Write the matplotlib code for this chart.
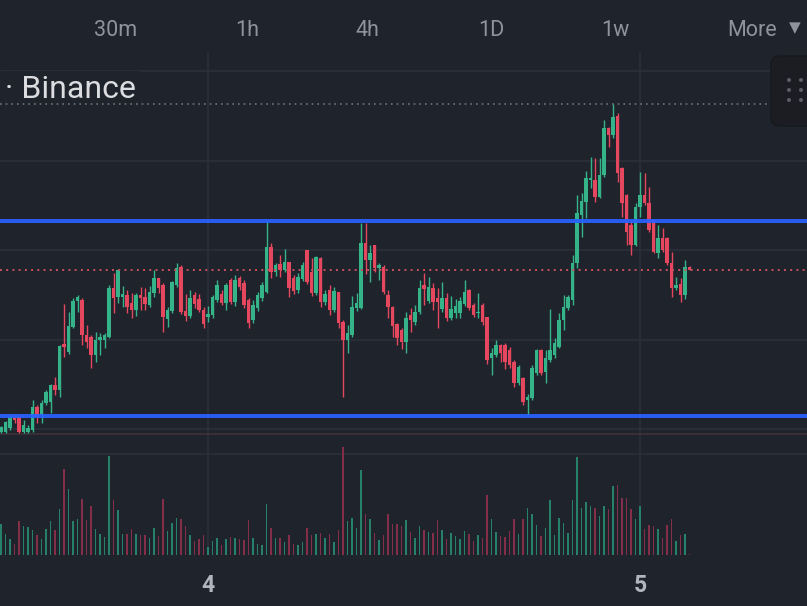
import numpy as np
import matplotlib
matplotlib.use("Agg")
import matplotlib.pyplot as plt
from matplotlib.patches import FancyBboxPatch, Circle
from matplotlib.transforms import IdentityTransform

# 15 minute candles, first visible bar is index 0
opens = [538, 538, 542, 552, 553, 538, 538, 540, 563, 555,
         567, 568, 585, 580, 626, 618, 643, 669, 670, 635,
         633, 615, 630, 630, 633, 682, 673, 673, 675, 667,
         660, 675, 673, 665, 677, 692, 685, 651, 659, 685,
         703, 659, 654, 675, 671, 660, 653, 655, 670, 676,
         667, 690, 668, 692, 687, 670, 650, 662, 672, 678,
         723, 698, 706, 700, 708, 692, 680, 691, 720, 698,
         677, 712, 668, 680, 660, 678, 648, 630, 635, 662,
         662, 727, 710, 725, 702, 703, 675, 663, 646, 640,
         628, 655, 648, 658, 685, 669, 682, 672, 661, 672,
         652, 657, 657, 666, 680, 665, 657, 665, 653, 612,
         615, 625, 625, 620, 608, 587, 592, 570, 572, 597,
         620, 598, 610, 615, 623, 650, 662, 670, 707, 755,
         768, 790, 790, 773, 795, 842, 835, 854, 802, 775,
         745, 725, 763, 775, 767, 750, 717, 732, 732, 707,
         682, 686, 675, 703]
highs = [544, 549, 555, 556, 554, 550, 545, 570, 565, 570,
         580, 586, 593, 625, 666, 658, 672, 675, 672, 645,
         635, 638, 637, 637, 685, 697, 701, 684, 680, 677,
         677, 683, 682, 684, 700, 692, 687, 663, 689, 707,
         705, 676, 680, 678, 676, 663, 664, 675, 690, 680,
         687, 692, 695, 694, 690, 672, 670, 678, 688, 750,
         727, 707, 715, 721, 708, 695, 697, 708, 720, 712,
         714, 713, 680, 685, 683, 678, 650, 645, 674, 677,
         747, 747, 725, 725, 707, 705, 680, 664, 647, 642,
         658, 662, 665, 690, 697, 693, 687, 682, 688, 677,
         674, 671, 673, 690, 681, 667, 677, 667, 653, 622,
         630, 626, 627, 623, 610, 605, 593, 576, 605, 621,
         621, 620, 661, 632, 657, 675, 675, 715, 775, 777,
         799, 813, 812, 812, 850, 843, 866, 857, 803, 776,
         750, 767, 798, 797, 783, 750, 745, 742, 733, 718,
         693, 692, 710, 704]
lows = [537, 537, 540, 547, 537, 537, 537, 538, 547, 547,
        565, 557, 575, 573, 613, 616, 642, 658, 625, 622,
        602, 608, 615, 622, 632, 657, 667, 663, 657, 652,
        654, 660, 660, 663, 673, 677, 638, 643, 657, 683,
        656, 649, 652, 662, 658, 642, 648, 652, 668, 665,
        660, 666, 664, 680, 662, 642, 647, 659, 669, 677,
        692, 694, 693, 698, 673, 676, 677, 689, 686, 674,
        675, 663, 665, 655, 658, 642, 573, 617, 633, 659,
        661, 696, 688, 698, 690, 676, 652, 633, 625, 621,
        617, 638, 645, 656, 665, 667, 660, 642, 658, 649,
        650, 652, 652, 664, 660, 653, 652, 645, 606, 595,
        613, 608, 601, 602, 583, 585, 565, 555, 570, 595,
        595, 587, 608, 612, 622, 640, 660, 665, 702, 733,
        752, 782, 768, 772, 793, 823, 832, 788, 753, 725,
        715, 724, 753, 765, 738, 717, 712, 718, 705, 673,
        680, 668, 671, 700]
closes = [543, 548, 553, 550, 538, 545, 542, 563, 553, 567,
          578, 585, 580, 624, 623, 644, 669, 673, 635, 628,
          615, 630, 633, 635, 682, 672, 700, 676, 663, 660,
          675, 672, 666, 678, 692, 682, 653, 660, 688, 702,
          658, 654, 672, 666, 660, 646, 656, 673, 685, 667,
          685, 668, 690, 683, 665, 647, 665, 675, 685, 723,
          698, 705, 700, 708, 682, 679, 693, 705, 688, 677,
          713, 668, 676, 660, 679, 647, 630, 637, 663, 667,
          727, 710, 717, 702, 705, 678, 663, 644, 632, 628,
          652, 650, 658, 682, 681, 683, 668, 668, 672, 652,
          661, 664, 669, 678, 662, 655, 658, 648, 610, 617,
          625, 617, 608, 605, 587, 603, 568, 573, 602, 620,
          597, 612, 620, 627, 650, 663, 673, 707, 757, 769,
          792, 792, 773, 795, 842, 835, 853, 797, 767, 738,
          725, 763, 775, 767, 740, 718, 732, 720, 707, 682,
          685, 675, 703, 700]
volumes = [94, 64, 49, 34, 101, 86, 84, 76, 59, 47,
           77, 101, 74, 137, 259, 199, 101, 107, 169, 104,
           146, 79, 64, 53, 296, 164, 134, 64, 64, 77,
           64, 61, 59, 51, 82, 56, 169, 71, 97, 112,
           109, 86, 61, 42, 47, 61, 24, 41, 52, 29,
           49, 53, 50, 47, 44, 104, 52, 34, 31, 154,
           82, 52, 50, 38, 59, 34, 31, 40, 82, 59,
           62, 65, 52, 64, 38, 74, 324, 101, 112, 82,
           254, 122, 109, 67, 44, 61, 124, 92, 94, 86,
           106, 70, 52, 86, 76, 68, 67, 106, 74, 47,
           67, 58, 47, 71, 62, 41, 61, 50, 179, 109,
           70, 58, 53, 71, 107, 64, 107, 142, 124, 91,
           58, 82, 164, 61, 112, 97, 67, 166, 293, 142,
           158, 148, 142, 116, 148, 137, 206, 209, 172, 172,
           139, 107, 146, 77, 89, 86, 77, 51, 89, 109,
           41, 59, 64, 4]

day_ticks = [46, 142]
day_labels = ["4", "5"]
price_grid = [541, 630, 720, 809, 899]
blue_levels = [749, 554]
last_price = 700
session_high = 866
prev_level = 536
tabs = ["30m", "1h", "4h", "1D", "1w", "More"]

BG = "#1f232c"
GRID = "#2b2f39"
UP = "#35b489"
DOWN = "#e5475e"
VOL_UP = "#26806a"
VOL_DOWN = "#852e4a"
FONT = ["Roboto", "DejaVu Sans"]

W, H = 807, 606
fig = plt.figure(figsize=(W / 100, H / 100), dpi=100, facecolor=BG)

o = np.array(opens)
h = np.array(highs)
l = np.array(lows)
c = np.array(closes)
idx = np.arange(len(o))
up = c >= o
colors = np.where(up, UP, DOWN)

xlim = (-1 / 4.5, (W - 1) / 4.5)

ax = fig.add_axes([0, 1 - 454 / H, 1, (454 - 52) / H])
ax.set_facecolor(BG)
ax.set_xlim(*xlim)
ax.set_ylim(516, 918)
ax.set_axisbelow(True)
ax.set_yticks(price_grid)
ax.set_xticks(day_ticks)
ax.grid(color=GRID, lw=1.3)
ax.tick_params(length=0, labelleft=False, labelbottom=False)
for s in ["top", "left", "right"]:
    ax.spines[s].set_visible(False)
ax.spines["bottom"].set_color(GRID)
ax.spines["bottom"].set_linewidth(1.3)

ax.vlines(idx, l, h, colors=colors, lw=1.0, zorder=3)
ax.bar(idx, np.maximum(np.abs(c - o), 1.2), bottom=np.minimum(o, c),
       width=0.72, color=colors, linewidth=0, zorder=4)

for lv in blue_levels:
    ax.axhline(lv, color="#2962ff", lw=2.9, alpha=0.92, zorder=5)
ax.axhline(last_price, color="#c9505d", lw=1.4, ls=(0, (1, 2.2)), zorder=5)
ax.axhline(session_high, color="#6f737b", lw=1.2, ls=(0, (1, 2.4)), zorder=2)
ax.axhline(prev_level, color="#3d3237", lw=1.2, zorder=1)

ax.text(5 / W, (454 - 89) / (454 - 52), "\u00b7 Binance", transform=ax.transAxes,
        fontsize=23, color="#dcdde0", family=FONT, ha="left", va="center",
        zorder=1.8, bbox=dict(boxstyle="square,pad=0.12", fc=BG, ec="none"))

axv = fig.add_axes([0, 1 - 555 / H, 1, (555 - 454) / H])
axv.patch.set_alpha(0)
axv.set_xlim(*xlim)
axv.set_ylim(0, 303)
axv.bar(idx, volumes, width=0.42, color=np.where(up, VOL_UP, VOL_DOWN),
        linewidth=0, clip_on=False, zorder=3)
axv.set_xticks(day_ticks, day_labels)
axv.set_yticks([])
axv.grid(axis="x", color=GRID, lw=1.3)
axv.set_axisbelow(True)
axv.tick_params(length=0, pad=14, labelsize=16.5, labelcolor="#b2b5be")
for lab in axv.get_xticklabels():
    lab.set_fontweight("bold")
    lab.set_family(FONT)
for s in axv.spines.values():
    s.set_visible(False)

tab_x = [116, 247, 367, 491, 615, 752]
for t, x in zip(tabs, tab_x):
    fig.text(x / W, 1 - 30 / H, t, fontsize=15.5, color="#8f939c", family=FONT,
             ha="center", va="center")
fig.text(795 / W, 1 - 28 / H, "\u25bc", fontsize=11, color="#8f939c",
         family=["DejaVu Sans"], ha="center", va="center")

handle = FancyBboxPatch((771, H - 126), 60, 70, boxstyle="round,pad=0,rounding_size=9",
                        transform=IdentityTransform(), fc="#1b1d22", ec="#16181c", lw=1)
fig.add_artist(handle)
for dx in [789, 801]:
    for dy in [80, 90, 100]:
        fig.add_artist(Circle((dx, H - dy), 2, transform=IdentityTransform(),
                              fc="#5b5e66", ec="none"))

fig.savefig("out.png", dpi=100, facecolor=BG)
